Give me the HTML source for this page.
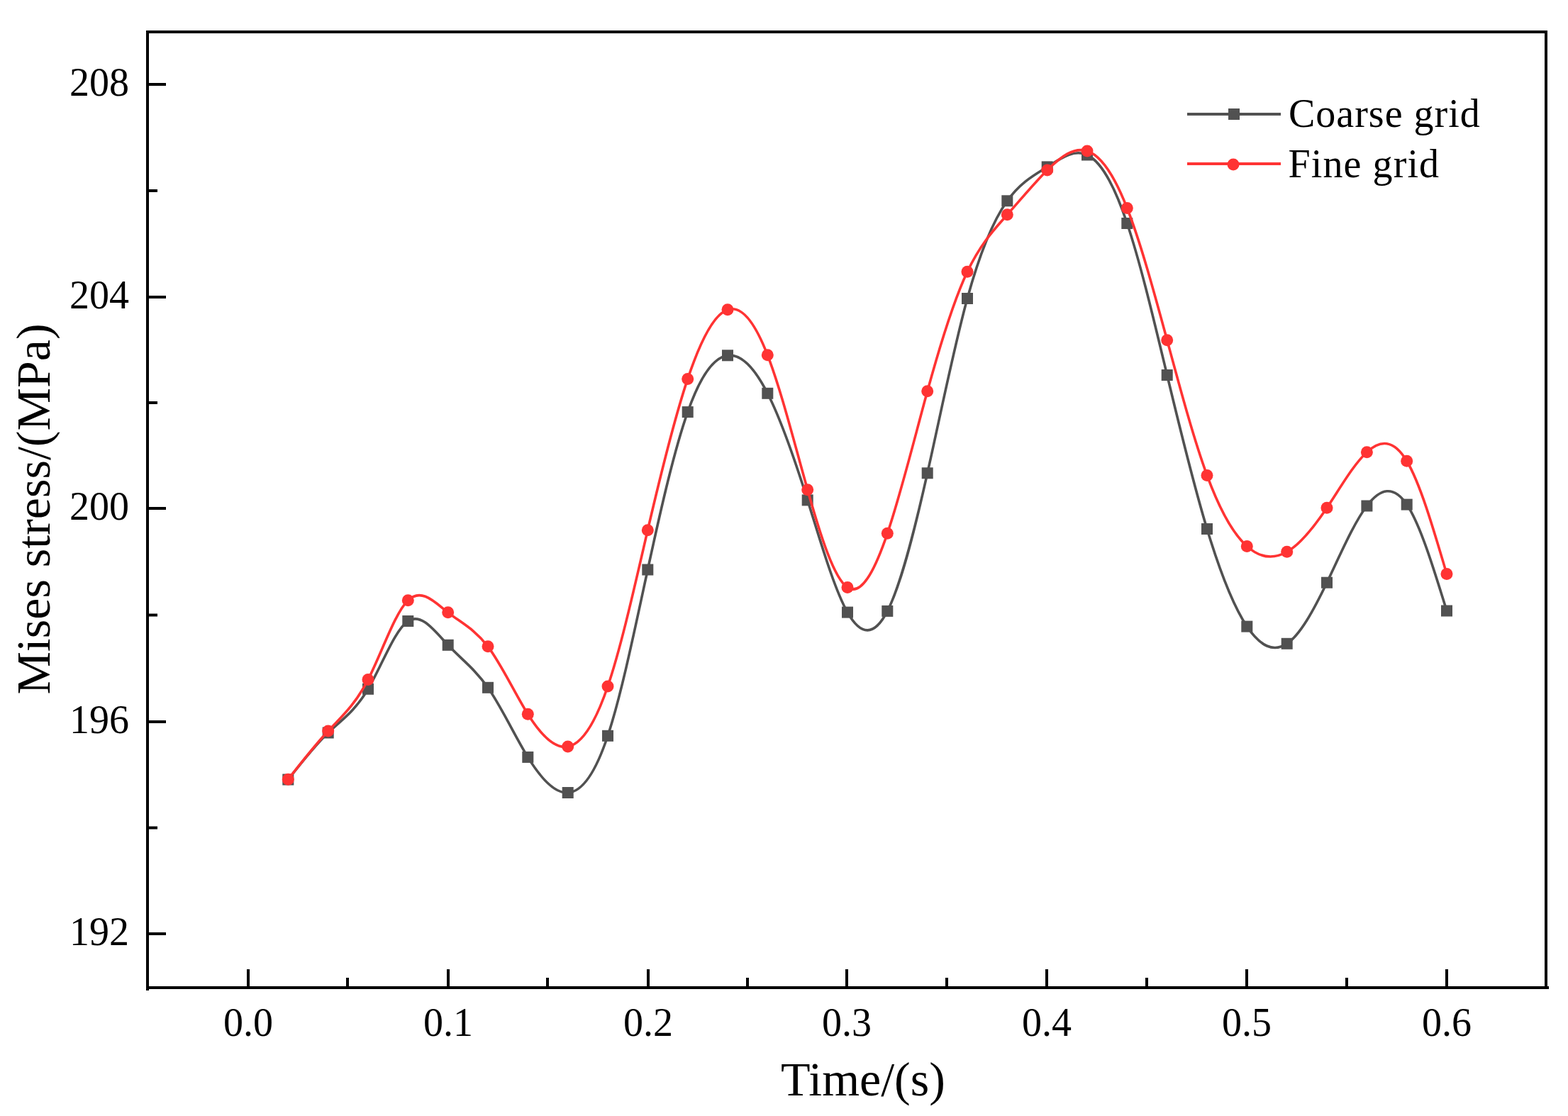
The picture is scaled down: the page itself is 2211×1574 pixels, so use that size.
<!DOCTYPE html>
<html><head><meta charset="utf-8"><title>Mises stress vs time</title>
<style>
html,body{margin:0;padding:0;background:#fff;}
svg{display:block;}
.tk{font-family:"Liberation Serif",serif;font-size:56px;fill:#000;}
.ti{font-family:"Liberation Serif",serif;font-size:68px;fill:#000;}
</style></head>
<body>
<svg width="2211" height="1574" viewBox="0 0 2211 1574">
<rect width="2211" height="1574" fill="#fff"/>
<path d="M406.3,1099.5 C425.1,1075.5 443.9,1051.5 462.7,1033.5 C481.4,1015.5 500.2,1003.5 519.0,971.8 C537.8,940.1 556.6,888.5 575.3,876.0 C594.1,863.5 612.9,889.9 631.7,909.8 C650.4,929.7 669.2,942.9 688.0,969.8 C706.8,996.7 725.6,1037.3 744.3,1067.9 C763.1,1098.5 781.9,1119.0 800.7,1118.0 C819.5,1117.0 838.2,1094.5 857.0,1037.8 C875.8,981.1 894.6,890.2 913.3,803.5 C932.1,716.8 950.9,634.4 969.7,581.1 C988.5,527.8 1007.2,503.7 1026.0,501.3 C1044.8,498.9 1063.6,518.1 1082.3,554.8 C1101.1,591.5 1119.9,645.7 1138.7,705.4 C1157.5,765.1 1176.2,830.3 1195.0,863.6 C1213.8,896.9 1232.6,898.3 1251.3,861.9 C1270.1,825.5 1288.9,751.3 1307.7,667.3 C1326.5,583.3 1345.2,489.4 1364.0,421.0 C1382.8,352.6 1401.6,309.6 1420.3,283.3 C1439.1,257.0 1457.9,247.2 1476.7,235.4 C1495.5,223.6 1514.2,209.6 1533.0,218.5 C1551.8,227.4 1570.6,259.2 1589.3,315.0 C1608.1,370.8 1626.9,450.7 1645.7,529.0 C1664.5,607.3 1683.2,683.9 1702.0,746.0 C1720.8,808.1 1739.6,855.5 1758.3,883.6 C1777.1,911.7 1795.9,920.5 1814.7,907.8 C1833.5,895.1 1852.2,860.9 1871.0,821.7 C1889.8,782.5 1908.6,738.2 1927.4,713.5 C1946.1,688.8 1964.9,683.7 1983.7,711.6 C2002.5,739.5 2021.2,800.5 2040.0,861.5" fill="none" stroke="#515151" stroke-width="3.6"/>
<rect x="398.3" y="1091.5" width="16" height="16" fill="#515151"/>
<rect x="454.7" y="1025.5" width="16" height="16" fill="#515151"/>
<rect x="511.0" y="963.8" width="16" height="16" fill="#515151"/>
<rect x="567.3" y="868.0" width="16" height="16" fill="#515151"/>
<rect x="623.7" y="901.8" width="16" height="16" fill="#515151"/>
<rect x="680.0" y="961.8" width="16" height="16" fill="#515151"/>
<rect x="736.3" y="1059.9" width="16" height="16" fill="#515151"/>
<rect x="792.7" y="1110.0" width="16" height="16" fill="#515151"/>
<rect x="849.0" y="1029.8" width="16" height="16" fill="#515151"/>
<rect x="905.3" y="795.5" width="16" height="16" fill="#515151"/>
<rect x="961.7" y="573.1" width="16" height="16" fill="#515151"/>
<rect x="1018.0" y="493.3" width="16" height="16" fill="#515151"/>
<rect x="1074.3" y="546.8" width="16" height="16" fill="#515151"/>
<rect x="1130.7" y="697.4" width="16" height="16" fill="#515151"/>
<rect x="1187.0" y="855.6" width="16" height="16" fill="#515151"/>
<rect x="1243.3" y="853.9" width="16" height="16" fill="#515151"/>
<rect x="1299.7" y="659.3" width="16" height="16" fill="#515151"/>
<rect x="1356.0" y="413.0" width="16" height="16" fill="#515151"/>
<rect x="1412.3" y="275.3" width="16" height="16" fill="#515151"/>
<rect x="1468.7" y="227.4" width="16" height="16" fill="#515151"/>
<rect x="1525.0" y="210.5" width="16" height="16" fill="#515151"/>
<rect x="1581.3" y="307.0" width="16" height="16" fill="#515151"/>
<rect x="1637.7" y="521.0" width="16" height="16" fill="#515151"/>
<rect x="1694.0" y="738.0" width="16" height="16" fill="#515151"/>
<rect x="1750.3" y="875.6" width="16" height="16" fill="#515151"/>
<rect x="1806.7" y="899.8" width="16" height="16" fill="#515151"/>
<rect x="1863.0" y="813.7" width="16" height="16" fill="#515151"/>
<rect x="1919.4" y="705.5" width="16" height="16" fill="#515151"/>
<rect x="1975.7" y="703.6" width="16" height="16" fill="#515151"/>
<rect x="2032.0" y="853.5" width="16" height="16" fill="#515151"/>
<path d="M406.3,1099.2 C425.1,1075.1 443.9,1051.0 462.7,1031.0 C481.4,1011.0 500.2,995.0 519.0,958.5 C537.8,922.0 556.6,864.9 575.3,846.7 C594.1,828.5 612.9,849.1 631.7,863.8 C650.4,878.5 669.2,887.1 688.0,911.8 C706.8,936.5 725.6,977.2 744.3,1007.2 C763.1,1037.2 781.9,1056.5 800.7,1053.0 C819.5,1049.5 838.2,1023.3 857.0,968.0 C875.8,912.7 894.6,828.3 913.3,747.7 C932.1,667.1 950.9,590.3 969.7,534.4 C988.5,478.5 1007.2,443.3 1026.0,436.8 C1044.8,430.3 1063.6,452.4 1082.3,500.8 C1101.1,549.2 1119.9,624.0 1138.7,690.7 C1157.5,757.4 1176.2,816.1 1195.0,828.6 C1213.8,841.1 1232.6,807.5 1251.3,752.3 C1270.1,697.1 1288.9,620.3 1307.7,551.8 C1326.5,483.3 1345.2,423.1 1364.0,383.3 C1382.8,343.5 1401.6,324.0 1420.3,302.8 C1439.1,281.6 1457.9,258.7 1476.7,240.0 C1495.5,221.3 1514.2,206.9 1533.0,213.0 C1551.8,219.1 1570.6,245.7 1589.3,293.5 C1608.1,341.3 1626.9,410.2 1645.7,479.7 C1664.5,549.2 1683.2,619.3 1702.0,670.4 C1720.8,721.5 1739.6,753.6 1758.3,770.5 C1777.1,787.4 1795.9,789.0 1814.7,778.3 C1833.5,767.6 1852.2,744.4 1871.0,716.3 C1889.8,688.2 1908.6,655.0 1927.4,637.7 C1946.1,620.4 1964.9,619.0 1983.7,650.3 C2002.5,681.6 2021.2,745.6 2040.0,809.6" fill="none" stroke="#ff3333" stroke-width="3.6"/>
<circle cx="406.3" cy="1099.2" r="8.5" fill="#ff3333"/>
<circle cx="462.7" cy="1031.0" r="8.5" fill="#ff3333"/>
<circle cx="519.0" cy="958.5" r="8.5" fill="#ff3333"/>
<circle cx="575.3" cy="846.7" r="8.5" fill="#ff3333"/>
<circle cx="631.7" cy="863.8" r="8.5" fill="#ff3333"/>
<circle cx="688.0" cy="911.8" r="8.5" fill="#ff3333"/>
<circle cx="744.3" cy="1007.2" r="8.5" fill="#ff3333"/>
<circle cx="800.7" cy="1053.0" r="8.5" fill="#ff3333"/>
<circle cx="857.0" cy="968.0" r="8.5" fill="#ff3333"/>
<circle cx="913.3" cy="747.7" r="8.5" fill="#ff3333"/>
<circle cx="969.7" cy="534.4" r="8.5" fill="#ff3333"/>
<circle cx="1026.0" cy="436.8" r="8.5" fill="#ff3333"/>
<circle cx="1082.3" cy="500.8" r="8.5" fill="#ff3333"/>
<circle cx="1138.7" cy="690.7" r="8.5" fill="#ff3333"/>
<circle cx="1195.0" cy="828.6" r="8.5" fill="#ff3333"/>
<circle cx="1251.3" cy="752.3" r="8.5" fill="#ff3333"/>
<circle cx="1307.7" cy="551.8" r="8.5" fill="#ff3333"/>
<circle cx="1364.0" cy="383.3" r="8.5" fill="#ff3333"/>
<circle cx="1420.3" cy="302.8" r="8.5" fill="#ff3333"/>
<circle cx="1476.7" cy="240.0" r="8.5" fill="#ff3333"/>
<circle cx="1533.0" cy="213.0" r="8.5" fill="#ff3333"/>
<circle cx="1589.3" cy="293.5" r="8.5" fill="#ff3333"/>
<circle cx="1645.7" cy="479.7" r="8.5" fill="#ff3333"/>
<circle cx="1702.0" cy="670.4" r="8.5" fill="#ff3333"/>
<circle cx="1758.3" cy="770.5" r="8.5" fill="#ff3333"/>
<circle cx="1814.7" cy="778.3" r="8.5" fill="#ff3333"/>
<circle cx="1871.0" cy="716.3" r="8.5" fill="#ff3333"/>
<circle cx="1927.4" cy="637.7" r="8.5" fill="#ff3333"/>
<circle cx="1983.7" cy="650.3" r="8.5" fill="#ff3333"/>
<circle cx="2040.0" cy="809.6" r="8.5" fill="#ff3333"/>
<rect x="208" y="45" width="1972" height="1348" fill="none" stroke="#000" stroke-width="4"/>
<line x1="208" y1="43" x2="208" y2="1397" stroke="#000" stroke-width="4"/>
<line x1="206" y1="1393" x2="2184" y2="1393" stroke="#000" stroke-width="4"/>
<line x1="210" y1="119" x2="234" y2="119" stroke="#000" stroke-width="4"/>
<text x="182" y="134.8" text-anchor="end" class="tk">208</text>
<line x1="210" y1="419" x2="234" y2="419" stroke="#000" stroke-width="4"/>
<text x="182" y="434.8" text-anchor="end" class="tk">204</text>
<line x1="210" y1="717" x2="234" y2="717" stroke="#000" stroke-width="4"/>
<text x="182" y="732.8" text-anchor="end" class="tk">200</text>
<line x1="210" y1="1018" x2="234" y2="1018" stroke="#000" stroke-width="4"/>
<text x="182" y="1033.8" text-anchor="end" class="tk">196</text>
<line x1="210" y1="1317" x2="234" y2="1317" stroke="#000" stroke-width="4"/>
<text x="182" y="1332.8" text-anchor="end" class="tk">192</text>
<line x1="210" y1="269" x2="222" y2="269" stroke="#000" stroke-width="4"/>
<line x1="210" y1="568" x2="222" y2="568" stroke="#000" stroke-width="4"/>
<line x1="210" y1="867.5" x2="222" y2="867.5" stroke="#000" stroke-width="4"/>
<line x1="210" y1="1167.5" x2="222" y2="1167.5" stroke="#000" stroke-width="4"/>
<line x1="350" y1="1367" x2="350" y2="1391" stroke="#000" stroke-width="4"/>
<text x="350" y="1460.5" text-anchor="middle" class="tk">0.0</text>
<line x1="632" y1="1367" x2="632" y2="1391" stroke="#000" stroke-width="4"/>
<text x="632" y="1460.5" text-anchor="middle" class="tk">0.1</text>
<line x1="914" y1="1367" x2="914" y2="1391" stroke="#000" stroke-width="4"/>
<text x="914" y="1460.5" text-anchor="middle" class="tk">0.2</text>
<line x1="1194" y1="1367" x2="1194" y2="1391" stroke="#000" stroke-width="4"/>
<text x="1194" y="1460.5" text-anchor="middle" class="tk">0.3</text>
<line x1="1476" y1="1367" x2="1476" y2="1391" stroke="#000" stroke-width="4"/>
<text x="1476" y="1460.5" text-anchor="middle" class="tk">0.4</text>
<line x1="1758" y1="1367" x2="1758" y2="1391" stroke="#000" stroke-width="4"/>
<text x="1758" y="1460.5" text-anchor="middle" class="tk">0.5</text>
<line x1="2040" y1="1367" x2="2040" y2="1391" stroke="#000" stroke-width="4"/>
<text x="2040" y="1460.5" text-anchor="middle" class="tk">0.6</text>
<line x1="490" y1="1379" x2="490" y2="1391" stroke="#000" stroke-width="4"/>
<line x1="772" y1="1379" x2="772" y2="1391" stroke="#000" stroke-width="4"/>
<line x1="1054" y1="1379" x2="1054" y2="1391" stroke="#000" stroke-width="4"/>
<line x1="1335" y1="1379" x2="1335" y2="1391" stroke="#000" stroke-width="4"/>
<line x1="1617" y1="1379" x2="1617" y2="1391" stroke="#000" stroke-width="4"/>
<line x1="1899" y1="1379" x2="1899" y2="1391" stroke="#000" stroke-width="4"/>
<line x1="1674" y1="161" x2="1806" y2="161" stroke="#515151" stroke-width="3.8"/>
<rect x="1732" y="153" width="16" height="16" fill="#515151"/>
<text x="1817" y="179" class="tk" letter-spacing="1">Coarse grid</text>
<line x1="1674" y1="231" x2="1806" y2="231" stroke="#ff3333" stroke-width="3.8"/>
<circle cx="1739" cy="232" r="8.5" fill="#ff3333"/>
<text x="1816.5" y="250" class="tk" letter-spacing="1.1">Fine grid</text>
<text x="1217" y="1545" text-anchor="middle" class="ti">Time/(s)</text>
<text transform="translate(70,718) rotate(-90)" text-anchor="middle" class="ti">Mises stress/(MPa)</text>
</svg>
</body></html>
